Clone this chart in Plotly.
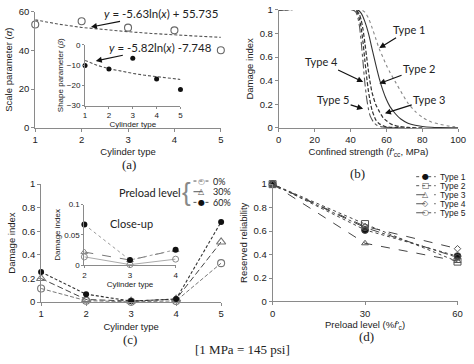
import plotly.graph_objects as go

W, H = 474, 364

# ---------------- data ----------------
cyl = [1, 2, 3, 4, 5]
alpha = [53.3, 55.0, 51.7, 50.3, 40.0]
fit_x = [1, 1.5, 2, 2.5, 3, 3.5, 4, 4.5, 5]
alpha_fit = [55.7, 53.5, 51.8, 50.6, 49.6, 48.7, 47.9, 47.3, 46.7]
beta = [-10.2, -12.0, -6.7, -16.9, -22.0]
beta_fit = [-7.7, -10.1, -11.8, -13.1, -14.1, -15.0, -15.8, -16.5, -17.1]

t1_x = [0, 46, 48, 50, 52, 54, 56, 58, 60, 62, 65, 68, 72, 76, 80, 85, 90, 95, 100]
t1_y = [1, 1.0, 0.98, 0.93, 0.85, 0.76, 0.67, 0.60, 0.53, 0.47, 0.39, 0.31, 0.21, 0.14, 0.09, 0.05, 0.03, 0.015, 0.008]
t2_x = [0, 44, 46, 48, 50, 52, 54, 56, 58, 60, 62, 65, 68, 72, 76, 80, 85, 90, 100]
t2_y = [1, 1.0, 0.97, 0.90, 0.80, 0.67, 0.54, 0.42, 0.32, 0.24, 0.18, 0.12, 0.075, 0.04, 0.022, 0.012, 0.005, 0.002, 0.0]
t3_x = [0, 43, 45, 46, 47, 48, 49, 50, 51, 52, 54, 56, 58, 60, 63, 67, 72, 80]
t3_y = [1, 1.0, 0.96, 0.91, 0.83, 0.72, 0.60, 0.48, 0.38, 0.30, 0.20, 0.14, 0.09, 0.06, 0.03, 0.012, 0.004, 0.0]
t4_x = [0, 42, 44, 45, 46, 47, 48, 49, 50, 51, 52, 54, 56, 59, 63, 68, 75]
t4_y = [1, 1.0, 0.97, 0.92, 0.84, 0.72, 0.57, 0.43, 0.31, 0.22, 0.15, 0.07, 0.035, 0.013, 0.004, 0.001, 0.0]
t5_x = [0, 41, 43, 44, 45, 46, 47, 48, 49, 50, 51, 53, 55, 58, 62, 70]
t5_y = [1, 1.0, 0.98, 0.94, 0.86, 0.72, 0.55, 0.38, 0.25, 0.16, 0.10, 0.045, 0.02, 0.007, 0.002, 0.0]

dmg_0 = [0.115, 0.012, 0.002, 0.010, 0.33]
dmg_30 = [0.20, 0.022, 0.0085, 0.025, 0.51]
dmg_60 = [0.255, 0.067, 0.0085, 0.0255, 0.68]
close_x = [2, 3, 4]
close_0 = [0.0138, 0.001, 0.010]
close_30 = [0.0217, 0.0085, 0.025]
close_60 = [0.067, 0.0085, 0.0255]

preload = [0, 30, 60]
rel_1 = [1.0, 0.61, 0.386]
rel_2 = [1.0, 0.66, 0.34]
rel_3 = [1.0, 0.496, 0.345]
rel_4 = [1.0, 0.64, 0.45]
rel_5 = [1.0, 0.63, 0.375]

# ---------------- helpers ----------------
def fx(p):
    return p / W

def fy(p):
    return 1 - p / H

SANS = "Liberation Sans"
CAL = "Lato"
SERIF = "Liberation Serif"
TXT = "#222"

def axis(domain, rng, dtick, title="", size=9.5, standoff=4, **kw):
    d = dict(domain=domain, range=rng, dtick=dtick, showline=True, linecolor="#8a8a8a",
             linewidth=1, ticks="outside", ticklen=3, tickcolor="#8a8a8a", showgrid=False,
             zeroline=False, tickfont=dict(family=SANS, size=size, color=TXT),
             title=dict(text=title, font=dict(family=SANS, size=size, color=TXT), standoff=standoff),
             fixedrange=True)
    d.update(kw)
    return d

fig = go.Figure()

# (a)
fig.add_trace(go.Scatter(x=fit_x, y=alpha_fit, mode="lines", line=dict(color="#555", width=1.1, dash="3px,2px"),
                         xaxis="x", yaxis="y", cliponaxis=False))
fig.add_trace(go.Scatter(x=cyl, y=alpha, mode="markers",
                         marker=dict(symbol="circle-open", size=7, color="#666", line=dict(width=1.1)),
                         xaxis="x", yaxis="y", cliponaxis=False))
fig.add_trace(go.Scatter(x=fit_x, y=beta_fit, mode="lines", line=dict(color="#555", width=1.1, dash="3px,2px"),
                         xaxis="x2", yaxis="y2", cliponaxis=False))
fig.add_trace(go.Scatter(x=cyl, y=beta, mode="markers", marker=dict(symbol="circle", size=5, color="#111"),
                         xaxis="x2", yaxis="y2", cliponaxis=False))

# (b)
for xs, ys, col, dash, w in [(t1_x, t1_y, "#888", "dot", 1.1), (t2_x, t2_y, "#333", "solid", 1.1),
                             (t3_x, t3_y, "#333", "4px,2px", 1.2), (t4_x, t4_y, "#333", "4px,2px", 1.2),
                             (t5_x, t5_y, "#555", "dashdot", 1.1)]:
    fig.add_trace(go.Scatter(x=xs, y=ys, mode="lines", line=dict(color=col, width=w, dash=dash, shape="spline", smoothing=0.6),
                             xaxis="x3", yaxis="y3"))

# (c)
fig.add_trace(go.Scatter(x=cyl, y=dmg_0, mode="lines+markers", line=dict(color="#777", width=1, dash="4px,2px"),
                         marker=dict(symbol="circle-open", size=7, color="#777", line=dict(width=1.1)),
                         xaxis="x4", yaxis="y4", cliponaxis=False))
fig.add_trace(go.Scatter(x=cyl, y=dmg_30, mode="lines+markers", line=dict(color="#444", width=1, dash="6px,3px"),
                         marker=dict(symbol="triangle-up-open", size=8, color="#777", line=dict(width=1.1)),
                         xaxis="x4", yaxis="y4", cliponaxis=False))
fig.add_trace(go.Scatter(x=cyl, y=dmg_60, mode="lines+markers", line=dict(color="#333", width=1.1, dash="3px,2px"),
                         marker=dict(symbol="circle", size=6, color="#111"),
                         xaxis="x4", yaxis="y4", cliponaxis=False))
fig.add_trace(go.Scatter(x=close_x, y=close_0, mode="lines+markers", line=dict(color="#aaa", width=1),
                         marker=dict(symbol="circle-open", size=6, color="#888", line=dict(width=1)),
                         xaxis="x5", yaxis="y5", cliponaxis=False))
fig.add_trace(go.Scatter(x=close_x, y=close_30, mode="lines+markers", line=dict(color="#777", width=1, dash="dash"),
                         marker=dict(symbol="triangle-up-open", size=6, color="#888", line=dict(width=1)),
                         xaxis="x5", yaxis="y5", cliponaxis=False))
fig.add_trace(go.Scatter(x=close_x, y=close_60, mode="lines+markers", line=dict(color="#999", width=1, dash="dot"),
                         marker=dict(symbol="circle", size=6, color="#111"),
                         xaxis="x5", yaxis="y5", cliponaxis=False))

# (d)
for ys, sym, size, col, dash in [(rel_1, "circle", 7, "#111", "dot"), (rel_2, "square-open", 7, "#555", "dot"),
                                 (rel_3, "triangle-up-open", 6, "#555", "dash"),
                                 (rel_4, "diamond-open", 5, "#555", "dash"), (rel_5, "circle-open", 6, "#555", "dashdot")]:
    fig.add_trace(go.Scatter(x=preload, y=ys, mode="lines+markers", line=dict(color="#444", width=1, dash=dash),
                             marker=dict(symbol=sym, size=size, color=col, line=dict(width=1)),
                             xaxis="x6", yaxis="y6", cliponaxis=False))

layout = dict(
    width=W, height=H, margin=dict(l=0, r=0, t=0, b=0), showlegend=False,
    paper_bgcolor="white", plot_bgcolor="rgba(0,0,0,0)",
    xaxis=axis([fx(33), fx(223)], [1, 5], 1, "Cylinder type", anchor="y"),
    yaxis=axis([fy(125.7), fy(5.7)], [0, 60], 20, "Scale parameter (<i>α</i>)", anchor="x"),
    xaxis2=axis([fx(84), fx(181.7)], [1, 5], 1, "Cylinder type", size=8, standoff=2, anchor="y2", ticklen=2),
    yaxis2=axis([fy(102.7), fy(40)], [-30, 0], 10, "Shape parameter (<i>β</i>)", size=8, standoff=2, anchor="x2", ticklen=2),
    xaxis3=axis([fx(282.3), fx(466)], [0, 100], 20, "Confined strength (<i>f'</i><sub>cc</sub>, MPa)", anchor="y3"),
    yaxis3=axis([fy(125.7), fy(4)], [0, 1], 0.2, "Damage index", anchor="x3"),
    xaxis4=axis([fx(39), fx(223.3)], [1, 5], 1, "Cylinder type", anchor="y4"),
    yaxis4=axis([fy(305.3), fy(183.7)], [0, 1], 0.2, "Damage index", anchor="x4"),
    xaxis5=axis([fx(83.3), fx(176.7)], [2, 4], 1, "Cylinder type", size=8, standoff=2, anchor="y5", ticklen=2),
    yaxis5=axis([fy(267.3), fy(204.7)], [0, 0.1], 0.05, "Damage index", size=8, standoff=2, anchor="x5", ticklen=2),
    xaxis6=axis([fx(276), fx(465.3)], [0, 60], 30, "Preload level (%<i>f'</i><sub>c</sub>)", anchor="y6", standoff=1),
    yaxis6=axis([fy(304.7), fy(183.7)], [0, 1], 0.2, "Reserved reliability", anchor="x6"),
)
fig.update_layout(**layout)

ann = []
shapes = []

def text(px, py, s, size=11, family=CAL, color=TXT, xanchor="center"):
    ann.append(dict(x=fx(px), y=fy(py), xref="paper", yref="paper", text=s, showarrow=False,
                    font=dict(family=family, size=size, color=color), xanchor=xanchor, yanchor="middle"))

def label_arrow(center, tip, s, size=11):
    ann.append(dict(x=fx(tip[0]), y=fy(tip[1]), xref="paper", yref="paper", text=s, showarrow=True,
                    ax=center[0] - tip[0], ay=center[1] - tip[1], arrowhead=2, arrowsize=1, arrowwidth=1.2,
                    arrowcolor="#111", standoff=0, borderpad=1,
                    font=dict(family=CAL, size=size, color=TXT)))

# (a) equations
label_arrow((160, 8), (90, 21.7), "<i>y</i> = -5.63ln(<i>x</i>) + 55.735", size=11.5)
label_arrow((160, 43), (95, 56.7), "<i>y</i> = -5.82ln(<i>x</i>) -7.748", size=11.5)

# (b) type labels
label_arrow((415, 25), (385.3, 43.3), "Type 1")
label_arrow((425, 65), (385.3, 80), "Type 2")
label_arrow((327, 58.3), (368.7, 78.3), "Type 4")
label_arrow((338.7, 96.7), (368.7, 106), "Type 5")
label_arrow((435.3, 96.7), (391, 110.7), "Type 3")

# (c) close-up + legend
text(131.7, 224.7, "Close-up", size=11)
text(150, 192, "Preload level", size=11)
text(188, 192, "{", size=26, family=SANS, color="#888")
for py, glyph, dash, col, lab in [(180.5, "○", "dot", "#777", "0%"), (191.5, "△", "dash", "#555", "30%"),
                                  (202.5, "●", "dot", "#111", "60%")]:
    shapes.append(dict(type="line", xref="paper", yref="paper", x0=fx(195), x1=fx(211), y0=fy(py), y1=fy(py),
                       line=dict(color="#555", width=1, dash=dash)))
    text(203, py, glyph, size=8, family="DejaVu Sans", color=col)
    text(212.5, py, lab, size=9, xanchor="left")

# (d) legend
for py, glyph, dash, col, lab in [(176, "●", "dot", "#111", "Type 1"), (185.3, "□", "dot", "#555", "Type 2"),
                                  (194.6, "△", "dash", "#555", "Type 3"), (203.9, "◇", "dash", "#555", "Type 4"),
                                  (213.2, "○", "dashdot", "#555", "Type 5")]:
    shapes.append(dict(type="line", xref="paper", yref="paper", x0=fx(423), x1=fx(443), y0=fy(py), y1=fy(py),
                       line=dict(color="#555", width=1, dash=dash)))
    text(433, py, glyph, size=8, family="DejaVu Sans", color=col)
    text(445.5, py, lab, size=8.5, family=SANS, xanchor="left")

# captions
text(129, 163.5, "(a)", size=13, family=SERIF)
text(363, 173, "(b)", size=13, family=SERIF)
text(130, 343.7, "(c)", size=13, family=SERIF)
text(372, 341, "(d)", size=13, family=SERIF)
text(245, 354, "[1 MPa = 145 psi]", size=13, family=SERIF)

fig.update_layout(annotations=ann, shapes=shapes)
fig.write_html("out.html", config={"displayModeBar": False},
               post_script="document.body.style.margin='0';document.body.style.padding='0';document.body.style.overflow='hidden';")
